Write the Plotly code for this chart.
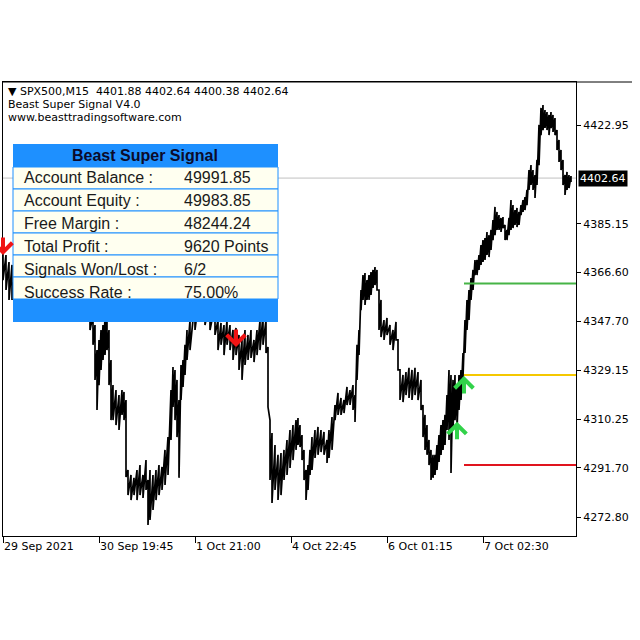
import plotly.graph_objects as go

# ---------------- data ----------------
bars = [
    0, 3, 6, 9, 12, 17, 22, 27, 32, 37,
    42, 47, 52, 57, 62, 67, 72, 77, 82, 87,
    90, 92, 94, 96, 98, 100, 102, 104, 106, 108,
    110, 113, 116, 119, 121, 123, 125, 128, 131, 134,
    137, 140, 143, 145, 147, 150, 153, 156, 159, 162,
    165, 168, 170, 172, 174, 176, 178, 180, 182, 184,
    187, 192, 197, 202, 207, 212, 215, 218, 221, 224,
    227, 230, 233, 236, 239, 242, 245, 248, 251, 254,
    257, 260, 263, 265, 267, 269, 272, 275, 278, 281,
    284, 287, 290, 293, 295, 297, 299, 301, 303, 305,
    307, 309, 312, 315, 318, 321, 324, 326, 329, 332,
    335, 338, 341, 344, 347, 350, 352, 354, 356, 358,
    360, 362, 364, 366, 368, 370, 372, 374, 376, 378,
    381, 384, 387, 390, 393, 395, 397, 400, 403, 406,
    409, 412, 415, 418, 420, 422, 424, 426, 428, 430,
    432, 434, 436, 438, 440, 442, 444, 446, 448, 450,
    452, 454, 456, 458, 460, 462, 464, 466, 468, 470,
    472, 474, 476, 478, 480, 482, 484, 486, 488, 490,
    492, 494, 496, 498, 500, 502, 504, 506, 508, 510,
    512, 514, 516, 518, 520, 522, 524, 526, 528, 530,
    532, 534, 536, 538, 540, 542, 544, 546, 548, 550,
    552, 554, 556, 558, 560, 562, 564, 566, 568,
]

bar_high = [
    4377.0, 4373.2, 4370.5, 4369.4, 4367.5, 4371.3, 4373.2, 4375.1, 4377.0, 4378.9,
    4377.0, 4375.1, 4373.2, 4375.1, 4373.2, 4370.5, 4368.2, 4365.5, 4361.7, 4356.0,
    4350.2, 4346.4, 4336.8, 4340.7, 4344.5, 4346.4, 4349.1, 4350.2, 4344.5, 4333.0,
    4323.4, 4321.5, 4319.6, 4321.5, 4320.8, 4317.7, 4290.9, 4289.0, 4287.9, 4290.9,
    4292.8, 4289.0, 4294.7, 4287.1, 4290.9, 4289.0, 4290.9, 4292.8, 4292.1, 4298.6,
    4303.5, 4321.5, 4330.3, 4329.2, 4325.4, 4317.7, 4331.1, 4333.0, 4338.8, 4344.5,
    4348.3, 4356.0, 4359.8, 4357.9, 4356.0, 4354.1, 4348.3, 4347.2, 4346.4, 4348.3,
    4346.4, 4344.5, 4345.3, 4342.6, 4340.7, 4344.5, 4342.6, 4344.5, 4340.7, 4344.5,
    4348.3, 4350.2, 4348.3, 4338.0, 4310.0, 4305.1, 4300.5, 4296.7, 4297.4, 4298.6,
    4302.4, 4306.2, 4308.1, 4310.0, 4310.8, 4308.1, 4304.3, 4298.6, 4290.9, 4292.8,
    4298.6, 4303.5, 4306.2, 4307.4, 4306.2, 4305.5, 4302.4, 4306.2, 4311.2, 4315.8,
    4320.4, 4318.5, 4317.7, 4322.7, 4321.5, 4323.4, 4319.6, 4338.8, 4344.5, 4359.8,
    4365.5, 4366.3, 4363.6, 4365.5, 4366.7, 4367.5, 4368.6, 4367.5, 4359.8, 4356.0,
    4348.3, 4349.1, 4346.4, 4344.5, 4347.6, 4340.7, 4329.2, 4327.3, 4328.4, 4330.0,
    4329.2, 4330.0, 4328.4, 4325.4, 4315.8, 4312.0, 4308.1, 4302.4, 4298.6, 4296.7,
    4296.7, 4300.5, 4304.3, 4308.1, 4310.0, 4312.0, 4319.6, 4329.2, 4327.3, 4325.4,
    4327.3, 4323.4, 4327.3, 4329.2, 4335.7, 4348.3, 4356.0, 4359.8, 4364.4, 4367.5,
    4371.3, 4371.3, 4373.2, 4377.0, 4378.9, 4379.7, 4382.0, 4380.8, 4382.8, 4386.6,
    4391.6, 4389.7, 4388.5, 4387.4, 4387.7, 4384.7, 4382.8, 4387.4, 4394.2, 4392.3,
    4390.4, 4391.2, 4389.7, 4392.3, 4394.2, 4395.4, 4398.1, 4405.7, 4407.6, 4405.7,
    4403.8, 4409.6, 4423.0, 4429.5, 4430.6, 4428.7, 4427.9, 4426.8, 4427.9, 4426.8,
    4425.6, 4421.0, 4417.2, 4413.4, 4409.6, 4403.8, 4405.0, 4403.8, 4403.4,
]

bar_low = [
    4363.6, 4359.8, 4356.0, 4356.0, 4356.0, 4359.8, 4361.7, 4363.6, 4365.5, 4367.5,
    4365.5, 4363.6, 4361.7, 4362.9, 4361.7, 4359.0, 4356.7, 4354.1, 4350.2, 4344.5,
    4338.8, 4325.4, 4313.9, 4323.4, 4329.2, 4333.0, 4334.9, 4336.8, 4323.4, 4310.0,
    4310.0, 4308.1, 4306.2, 4312.0, 4310.0, 4288.2, 4281.3, 4279.4, 4281.3, 4279.4,
    4281.3, 4280.2, 4283.3, 4269.9, 4271.8, 4275.6, 4279.4, 4281.3, 4283.3, 4285.2,
    4289.0, 4302.4, 4315.0, 4310.0, 4303.5, 4287.9, 4317.7, 4322.7, 4327.3, 4333.0,
    4336.8, 4344.5, 4348.3, 4346.4, 4344.5, 4342.6, 4336.8, 4338.8, 4334.9, 4338.8,
    4336.8, 4333.0, 4334.9, 4329.2, 4325.4, 4331.1, 4333.0, 4333.8, 4332.2, 4334.9,
    4336.8, 4338.8, 4335.7, 4315.0, 4287.1, 4278.3, 4283.3, 4279.4, 4281.3, 4287.1,
    4289.0, 4291.7, 4294.7, 4298.6, 4300.5, 4299.7, 4294.7, 4287.1, 4279.4, 4283.3,
    4289.0, 4290.9, 4295.5, 4296.7, 4297.8, 4296.7, 4293.6, 4295.5, 4298.6, 4310.0,
    4312.0, 4312.0, 4312.7, 4315.8, 4315.8, 4313.9, 4309.3, 4325.4, 4334.9, 4352.1,
    4356.0, 4354.1, 4356.0, 4356.0, 4357.9, 4360.6, 4361.7, 4359.8, 4344.5, 4341.8,
    4340.7, 4342.6, 4338.8, 4336.8, 4340.7, 4329.2, 4317.7, 4316.9, 4319.6, 4318.5,
    4317.7, 4319.6, 4317.7, 4313.9, 4303.5, 4298.6, 4296.7, 4292.8, 4287.1, 4287.9,
    4289.0, 4290.9, 4294.0, 4296.7, 4298.6, 4300.5, 4306.2, 4302.4, 4289.8, 4306.2,
    4310.0, 4306.2, 4313.9, 4317.7, 4326.5, 4335.7, 4344.5, 4348.3, 4356.0, 4359.8,
    4365.5, 4365.5, 4367.5, 4369.4, 4370.5, 4371.3, 4373.2, 4372.4, 4375.1, 4378.9,
    4380.8, 4382.8, 4382.8, 4382.0, 4383.5, 4378.9, 4378.9, 4380.8, 4382.8, 4383.5,
    4384.7, 4383.9, 4384.7, 4388.5, 4389.7, 4390.4, 4392.3, 4398.1, 4400.0, 4398.1,
    4395.0, 4400.0, 4407.6, 4419.1, 4421.0, 4421.8, 4421.0, 4419.1, 4421.8, 4420.3,
    4419.1, 4413.4, 4408.8, 4405.7, 4400.0, 4396.2, 4398.1, 4398.8, 4401.1,
]

x_tick_bars = [0, 96, 192, 288, 384, 480]
x_tick_labels = ["29 Sep 2021", "30 Sep 19:45", "1 Oct 21:00", "4 Oct 22:45", "6 Oct 01:15", "7 Oct 02:30"]
y_tick_values = [4272.80, 4291.70, 4310.25, 4329.15, 4347.70, 4366.60, 4385.15, 4422.95]
last_price = 4402.64

sell_bars = [0, 233]
sell_prices = [4373.2, 4338.0]
buy_bars = [454, 461]
buy_prices = [4309.4, 4326.9]

level_bars = [461, 573]
tp_level = 4362.3
entry_level = 4327.3
sl_level = 4292.8

header_lines = [
    "\u25bc SPX500,M15 \u00a04401.88 4402.64 4400.38 4402.64",
    "Beast Super Signal V4.0",
    "www.beasttradingsoftware.com",
]
table_title = "Beast Super Signal"
table_labels = ["Account Balance :", "Account Equity :", "Free Margin :", "Total Profit :",
                "Signals Won/Lost :", "Success Rate :"]
table_values = ["49991.85", "49983.85", "48244.24", "9620 Points", "6/2", "75.00%"]

# ---------------- layout geometry ----------------
W = H = 640
PL, PR, PT, PB = 3, 576, 82, 536
X_RANGE = [0, 573]
Y_RANGE = [4265.65, 4439.41]


def px(x):
    return (x - PL) / (PR - PL)


def py(y):
    return (PB - y) / (PB - PT)


assert len(bars) == len(bar_high) == len(bar_low)

# sawtooth path: each bar drawn high -> low, then a stroke up to the next bar's high
zx, zy = [], []
for b, h, l in zip(bars, bar_high, bar_low):
    zx += [b, b]
    zy += [h, l]

fig = go.Figure()
fig.add_trace(go.Scatter(x=X_RANGE, y=[last_price, last_price], mode="lines",
                         line=dict(color="#C0C0C0", width=1), hoverinfo="skip"))
fig.add_trace(go.Scatter(x=zx, y=zy, mode="lines",
                         line=dict(color="black", width=1.7), hoverinfo="skip"))
for lvl, col in [(tp_level, "#46B446"), (entry_level, "#F5C800"), (sl_level, "#E0141E")]:
    fig.add_trace(go.Scatter(x=level_bars, y=[lvl, lvl], mode="lines",
                             line=dict(color=col, width=2), hoverinfo="skip"))

shapes = []
# table
shapes.append(dict(type="rect", xref="paper", yref="paper", x0=px(13), x1=px(278),
                   y0=py(167), y1=py(144), fillcolor="#1E90FF", line=dict(width=0), layer="above"))
for k in range(6):
    shapes.append(dict(type="rect", xref="paper", yref="paper", x0=px(13), x1=px(278),
                       y0=py(189 + 22 * k), y1=py(167 + 22 * k), fillcolor="#FFFFF0",
                       line=dict(color="#1E90FF", width=1), layer="above"))
shapes.append(dict(type="rect", xref="paper", yref="paper", x0=px(13), x1=px(278),
                   y0=py(322), y1=py(299), fillcolor="#1E90FF", line=dict(width=0), layer="above"))
# top window border
shapes.append(dict(type="line", xref="paper", yref="paper", x0=px(2), x1=px(632),
                   y0=py(82), y1=py(82), line=dict(color="black", width=1), layer="above"))

annotations = []
for i, t in enumerate(header_lines):
    annotations.append(dict(xref="paper", yref="paper", x=px(6), y=py(92 + 13 * i), text=t,
                            showarrow=False, xanchor="left", yanchor="middle",
                            font=dict(family="DejaVu Sans", size=11, color="black")))
annotations.append(dict(xref="paper", yref="paper", x=px(145), y=py(155), text="<b>" + table_title + "</b>",
                        showarrow=False, xanchor="center", yanchor="middle",
                        font=dict(family="Liberation Sans", size=16, color="#0B0B2B")))
for k, (lab, val) in enumerate(zip(table_labels, table_values)):
    yy = py(177 + 23 * k)
    annotations.append(dict(xref="paper", yref="paper", x=px(22), y=yy, text=lab, showarrow=False,
                            xanchor="left", yanchor="middle",
                            font=dict(family="Liberation Sans", size=16, color="#1A1A1A")))
    annotations.append(dict(xref="paper", yref="paper", x=px(182), y=yy, text=val, showarrow=False,
                            xanchor="left", yanchor="middle",
                            font=dict(family="Liberation Sans", size=16, color="#1A1A1A")))
# price label
annotations.append(dict(xref="paper", yref="y", x=1, y=last_price, text=f"{last_price:.2f}",
                        showarrow=False, xanchor="left", yanchor="middle", xshift=2,
                        bgcolor="black", borderpad=1,
                        font=dict(family="DejaVu Sans", size=11, color="white")))
# signal arrows
for b, p in zip(sell_bars, sell_prices):
    annotations.append(dict(x=b, y=p, xref="x", yref="y", text="", showarrow=True, arrowhead=4,
                            arrowsize=0.9, arrowwidth=4, arrowcolor="#F01414", ax=0, ay=-19, standoff=0))
for b, p in zip(buy_bars, buy_prices):
    annotations.append(dict(x=b, y=p, xref="x", yref="y", text="", showarrow=True, arrowhead=4,
                            arrowsize=0.9, arrowwidth=4, arrowcolor="#32D24A", ax=0, ay=19, standoff=0))

fig.update_layout(
    width=W, height=H, autosize=False,
    margin=dict(l=PL, r=W - PR, t=PT, b=H - PB, pad=0),
    paper_bgcolor="white", plot_bgcolor="white",
    showlegend=False,
    shapes=shapes, annotations=annotations,
    xaxis=dict(range=X_RANGE, tickvals=x_tick_bars, ticktext=x_tick_labels,
               ticks="outside", ticklen=6, tickcolor="black", showline=True, linecolor="black",
               linewidth=1, mirror=True, showgrid=False, zeroline=False,
               ticklabelposition="outside right",
               tickfont=dict(family="DejaVu Sans", size=11, color="black")),
    yaxis=dict(range=Y_RANGE, side="right", tickvals=y_tick_values,
               ticktext=[f"{v:.2f}" for v in y_tick_values],
               ticks="outside", ticklen=4, tickcolor="black", showline=True, linecolor="black",
               linewidth=1, mirror=True, showgrid=False, zeroline=False,
               tickfont=dict(family="DejaVu Sans", size=11, color="black")),
)

fig.write_html("out.html", config={"displayModeBar": False},
               post_script="document.body.style.margin='0';document.body.style.padding='0';")
